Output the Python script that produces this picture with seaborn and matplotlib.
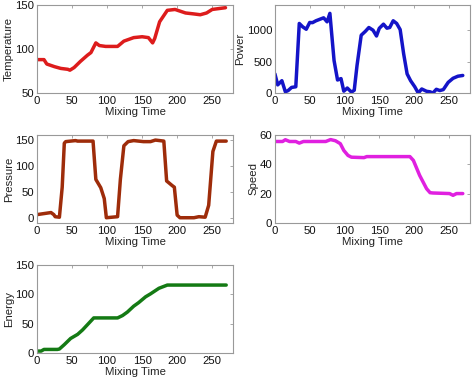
import numpy as np
import pandas as pd
import seaborn as sns
import matplotlib.pyplot as plt

# values
temp_t = [0, 10, 14, 25, 34, 44, 47, 53, 62, 72, 77, 84, 89, 98, 115, 124, 138, 150, 159, 165, 168, 175, 186, 197, 212, 223, 233, 242, 250, 269]
temp_v = [88, 88, 83, 80, 78, 77, 76, 79, 86, 93, 96, 107, 104, 103, 103, 109, 113, 114, 113, 107, 112, 131, 144, 145, 141, 140, 139, 141, 145, 147]

power_t = [0, 4, 10, 15, 19, 24, 30, 35, 40, 45, 50, 54, 59, 70, 75, 79, 85, 90, 95, 99, 104, 110, 114, 118, 124, 130, 135, 141, 146, 150, 156, 161, 165, 170, 175, 180, 185, 190, 195, 201, 206, 211, 218, 223, 227, 232, 237, 242, 249, 256, 263, 270]
power_v = [305, 130, 197, 20, 40, 90, 100, 1107, 1053, 1015, 1123, 1120, 1150, 1197, 1133, 1268, 518, 208, 230, 30, 80, 15, 45, 438, 920, 982, 1043, 1000, 908, 1030, 1096, 1032, 1043, 1150, 1107, 1010, 626, 305, 197, 100, 0, 65, 28, 20, 0, 60, 40, 55, 170, 235, 268, 280]

press_t = [0, 10, 20, 24, 26, 32, 36, 39, 41, 55, 58, 80, 84, 91, 96, 99, 115, 119, 124, 130, 138, 152, 162, 169, 181, 185, 193, 196, 200, 204, 224, 231, 240, 245, 251, 256, 270]
press_v = [6, 8, 10, 6, 2, 1, 59, 144, 147, 149, 148, 148, 74, 58, 37, 0, 2, 74, 139, 147, 149, 147, 147, 150, 148, 71, 62, 59, 5, 0, 0, 2, 1, 24, 128, 148, 148]

speed_t = [0, 11, 15, 21, 30, 35, 41, 73, 80, 87, 94, 99, 105, 110, 128, 132, 194, 199, 208, 218, 223, 227, 251, 256, 261, 270]
speed_v = [55.5, 55.5, 56.7, 55.5, 55.5, 54.4, 55.5, 55.5, 56.8, 56, 54, 49.4, 46, 44.8, 44.5, 45.2, 45.2, 42.6, 32.4, 23.3, 20.6, 20.4, 20, 18.8, 20, 20]

energy_t = [0, 6, 10, 29, 32, 39, 48, 58, 65, 74, 81, 115, 122, 129, 138, 145, 155, 162, 174, 186, 270]
energy_v = [3.5, 3.5, 6.3, 6.3, 7, 14.5, 25, 32, 39.5, 51, 60, 60, 64, 70, 80, 86, 96, 101, 110.5, 116, 116]

panels = [
    ("Temperature", temp_t, temp_v, "#dd1c1c", (50, 150), [50, 100, 150]),
    ("Power", power_t, power_v, "#1414c8", (0, 1400), [0, 500, 1000]),
    ("Pressure", press_t, press_v, "#9e2c0a", (-10, 160), [0, 50, 100, 150]),
    ("Speed", speed_t, speed_v, "#e020e0", (0, 60), [0, 20, 40, 60]),
    ("Energy", energy_t, energy_v, "#147a14", (0, 150), [0, 50, 100, 150]),
]

sns.set_style("white")
plt.rcParams['font.family'] = ['Liberation Sans', 'DejaVu Sans']

fig = plt.figure(figsize=(4.74, 3.83), dpi=100)

lefts = [0.078, 0.580]
bottoms = [0.757, 0.418, 0.078]
w = [0.414, 0.411]
h = 0.2298

for i, (name, t, v, color, ylim, yticks) in enumerate(panels):
    col = i % 2
    row = i // 2
    ax = fig.add_axes([lefts[col], bottoms[row], w[col], h])
    df = pd.DataFrame({"Mixing Time": t, name: v})
    sns.lineplot(data=df, x="Mixing Time", y=name, ax=ax, color=color, linewidth=2.5)
    ax.set_xlim(0, 280)
    ax.set_ylim(*ylim)
    ax.set_xticks([0, 50, 100, 150, 200, 250])
    ax.set_yticks(yticks)
    ax.tick_params(direction="in", length=2.5, width=0.6, colors="#999999",
                   labelcolor="#111111", labelsize=8.2, pad=2, top=True, right=True)
    ax.set_xlabel("Mixing Time", fontsize=8.2, color="#222222", labelpad=1)
    ax.set_ylabel(name, fontsize=8.2, color="#222222", labelpad=1)
    for s in ax.spines.values():
        s.set_color("#999999")
        s.set_linewidth(0.8)

fig.savefig("out.png", dpi=100)
